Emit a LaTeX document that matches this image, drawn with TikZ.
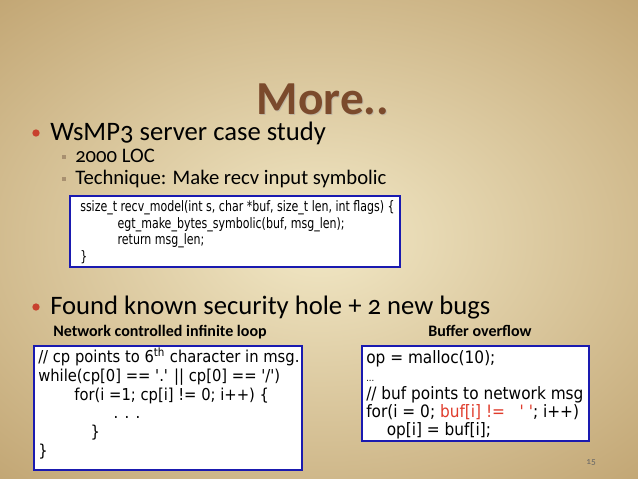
\documentclass[tikz,border=0pt]{standalone}
\usepackage{fontspec}
\setmainfont{Carlito}[Numbers=OldStyle]
\newfontfamily\codefont{DejaVu Sans Condensed}
\newfontfamily\codenarrow{DejaVu Sans Condensed}[FakeStretch=0.85]
\usetikzlibrary{shadings}
\definecolor{bgc}{HTML}{F2E8C6}
\definecolor{bge}{HTML}{C2A674}
\definecolor{titlec}{HTML}{7B4A2C}
\definecolor{bul}{HTML}{C8412E}
\definecolor{sq}{HTML}{A89070}
\definecolor{codeblue}{HTML}{1A1AB0}
\definecolor{codered}{HTML}{E03C2C}
\tikzset{
  codebox/.style={draw=codeblue,line width=1.5pt,fill=white},
  code/.style={anchor=north west,align=left,inner sep=0pt},
  bodytext/.style={anchor=base west,inner sep=0pt},
  bdot/.style={circle,fill=bul,inner sep=0pt,minimum size=5.5pt},
  bsq/.style={rectangle,fill=sq,inner sep=0pt,minimum size=3.5pt}
}
\begin{document}
\begin{tikzpicture}[x=0.75pt,y=-0.75pt]
\useasboundingbox (0,0) rectangle (638,478);
\shade[inner color=bgc,outer color=bge] (-160,-90) rectangle (798,568);
\path[use as bounding box] (0,0) rectangle (638,478);
% title
\node[font=\bfseries\fontsize{35.5}{38}\selectfont,text=black!35,opacity=0.5] at (324,100) {More..};
\node (title) [font=\bfseries\fontsize{35.5}{38}\selectfont,text=titlec] at (323,99) {More..};
% bullets
\node[bdot] (b1) at (36,133) {};
\node[bodytext,font=\fontsize{20}{24}\selectfont] (t1) at (50,140) {WsMP3 server case study};
\node[bsq] (s1) at (64,157) {};
\node[bodytext,font=\fontsize{15.5}{18}\selectfont] (t2) at (75,162) {2000 LOC};
\node[bsq] (s2) at (64,179) {};
\node[bodytext,font=\fontsize{15.5}{18}\selectfont] (t3) at (75,184) {Technique: Make recv input symbolic};
% box 1
\draw[codebox] (70,196) rectangle (400,267);
\node[code,font=\codenarrow\fontsize{10.8}{12.6}\selectfont] (c1) at (80,200) {ssize\_t recv\_model(int s, char *buf, size\_t len, int flags) \{\\
\hspace{2.6em}egt\_make\_bytes\_symbolic(buf, msg\_len);\\
\hspace{2.6em}return msg\_len;\\
\}};
% bullet 2
\node[bdot] (b2) at (36,307) {};
\node[bodytext,font=\fontsize{20}{24}\selectfont] (t4) at (50,314) {Found known security hole + 2 new bugs};
\node[bodytext,font=\bfseries\fontsize{12}{14}\selectfont] (l1) at (53,336) {Network controlled infinite loop};
\node[bodytext,font=\bfseries\fontsize{12}{14}\selectfont] (l2) at (428,336) {Buffer overflow};
% box 2
\draw[codebox] (34,346) rectangle (302,470);
\node[code,font=\codefont\fontsize{12.3}{14}\selectfont] (c2) at (38,348) {// cp points to 6\textsuperscript{th} character in msg.\\
while(cp[0] == '.' || cp[0] == '/')\\
\hspace{2.2em}for(i =1; cp[i] != 0; i++) \{\\
\hspace{4.6em}. . .\\
\hspace{3.2em}\}\\
\}};
% box 3
\draw[codebox] (362,346) rectangle (589,441);
\node[code,font=\codefont\fontsize{12.8}{13.6}\selectfont] (c3) at (366,350) {op = malloc(10);\\
{\fontsize{7}{9}\selectfont ...}\\
// buf points to network msg\\
for(i = 0; \textcolor{codered}{buf[i] != \ \ ' '}; i++)\\
\hspace{1.2em}op[i] = buf[i];};
\node[font=\fontsize{7}{8}\selectfont,text=black!60] (pg) at (591,463) {15};
\end{tikzpicture}
\end{document}
